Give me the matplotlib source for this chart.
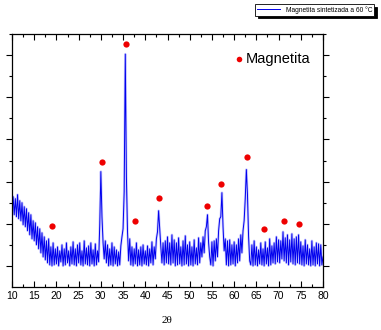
import numpy as np
import matplotlib
matplotlib.use("Agg")
import matplotlib.pyplot as plt
from matplotlib.ticker import MultipleLocator, FixedLocator

# 2theta grid 10..80 step 0.25, intensity (arb. units)
two_theta = np.arange(10, 80.001, 0.25)
intensity = [
    74, 90, 72, 88,    # 10
    70, 92, 68, 86,    # 11
    66, 84, 62, 80,    # 12
    60, 78, 56, 74,    # 13
    52, 72, 48, 66,    # 14
    46, 64, 42, 60,    # 15
    38, 58, 34, 54,    # 16
    30, 50, 27, 46,    # 17
    24, 48, 22, 40,    # 18
    21, 44, 22, 38,    # 19
    23, 40, 21, 36,    # 20
    25, 42, 21, 38,    # 21
    22, 44, 24, 36,    # 22
    21, 40, 23, 45,    # 23
    22, 38, 21, 42,    # 24
    24, 44, 22, 36,    # 25
    21, 46, 23, 39,    # 26
    22, 41, 21, 44,    # 27
    23, 37, 21, 43,    # 28
    22, 36, 25, 62,    # 29
    115, 70, 44, 28,   # 30
    46, 24, 42, 21,    # 31
    38, 22, 44, 21,    # 32
    40, 23, 37, 21,    # 33
    35, 22, 41, 50,    # 34
    58, 95, 232, 110,  # 35
    55, 26, 48, 22,    # 36
    40, 21, 38, 23,    # 37
    44, 21, 37, 22,    # 38
    40, 21, 42, 23,    # 39
    36, 22, 41, 21,    # 40
    38, 24, 45, 22,    # 41
    40, 28, 48, 55,    # 42
    76, 58, 40, 24,    # 43
    44, 22, 46, 24,    # 44
    50, 23, 44, 22,    # 45
    52, 24, 47, 21,    # 46
    44, 22, 49, 23,    # 47
    40, 21, 46, 22,    # 48
    51, 23, 42, 21,    # 49
    45, 22, 40, 21,    # 50
    47, 23, 39, 22,    # 51
    49, 24, 44, 30,    # 52
    50, 34, 56, 60,    # 53
    72, 44, 30, 22,    # 54
    45, 21, 46, 26,    # 55
    48, 30, 56, 68,    # 56
    70, 94, 60, 36,    # 57
    48, 22, 46, 21,    # 58
    47, 22, 42, 23,    # 59
    45, 21, 42, 24,    # 60
    48, 26, 52, 34,    # 61
    56, 66, 88, 117,   # 62
    92, 50, 26, 22,    # 63
    42, 21, 46, 22,    # 64
    40, 21, 37, 23,    # 65
    44, 22, 38, 21,    # 66
    45, 23, 39, 21,    # 67
    48, 22, 41, 24,    # 68
    44, 23, 50, 25,    # 69
    47, 24, 46, 28,    # 70
    55, 26, 49, 24,    # 71
    52, 22, 47, 25,    # 72
    53, 23, 48, 22,    # 73
    50, 24, 52, 23,    # 74
    45, 22, 41, 21,    # 75
    47, 23, 42, 22,    # 76
    38, 21, 46, 22,    # 77
    40, 21, 44, 23,    # 78
    43, 21, 42, 22,    # 79
    30,                # 80
]

# magnetite markers
mag_x = [19.0, 30.3, 35.6, 37.7, 43.1, 53.9, 57.0, 62.9, 66.7, 71.2, 74.6]
mag_y = [61, 125, 242, 66, 89, 81, 103, 129, 58, 66, 63]

fig = plt.figure(figsize=(3.81, 3.30), dpi=100)
ax = fig.add_axes([12/381, 43/330, 311/381, 253/330])

ax.plot(two_theta, intensity, color="#9090ff", lw=1.8, alpha=0.45)
line, = ax.plot(two_theta, intensity, color="#0000ee", lw=0.7,
                label="Magnetita sintetizada a 60 \u00b0C")
ax.plot(mag_x, mag_y, "o", color="#ee0000", ms=4.5, mec="none")

ax.set_xlim(10, 80)
ax.set_ylim(0, 252)
ax.xaxis.set_major_locator(MultipleLocator(5))
ax.xaxis.set_minor_locator(MultipleLocator(2.5))
ax.yaxis.set_major_locator(FixedLocator([21, 63, 105, 147, 189, 231]))
ax.yaxis.set_minor_locator(FixedLocator([42, 84, 126, 168, 210, 252]))
ax.tick_params(axis="x", which="both", direction="in", top=True, bottom=True,
               labelsize=7.5, pad=3)
ax.tick_params(axis="x", which="major", length=4, width=0.8)
ax.tick_params(axis="x", which="minor", length=2.5, width=0.8)
ax.tick_params(axis="y", which="both", direction="out", left=True, right=True,
               labelleft=False, width=0.8)
ax.tick_params(axis="y", which="major", length=4)
ax.tick_params(axis="y", which="minor", length=2.5)
for lab in ax.get_xticklabels():
    lab.set_fontfamily("Liberation Sans")
for s in ax.spines.values():
    s.set_linewidth(0.9)

ax.set_xlabel("2\u03b8", fontfamily="Liberation Serif", fontsize=8, labelpad=11)

# legend inside plot
ax.plot([61.1], [227], "o", color="#ee0000", ms=4, mec="none")
ax.text(62.6, 227, "Magnetita", fontsize=10.5, fontfamily="Liberation Sans",
        va="center", ha="left")

# legend box above plot
fig.legend(handles=[line], loc="upper right", bbox_to_anchor=(374/381, 1 - 4/330),
           frameon=True, fancybox=False, edgecolor="black",
           shadow={"color": "black", "alpha": 1}, handlelength=3.5,
           borderpad=0.3, handletextpad=0.8, borderaxespad=0,
           prop={"family": "Liberation Sans", "size": 4.8})
fig.legends[0].get_frame().set_linewidth(0.6)

fig.savefig("out.png", dpi=100)
